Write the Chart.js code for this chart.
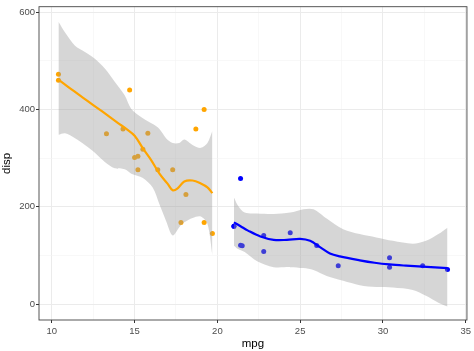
<!DOCTYPE html>
<html>
<head>
<meta charset="utf-8">
<script src="https://cdn.jsdelivr.net/npm/chart.js@4/dist/chart.umd.min.js"></script>
<style>
html,body{margin:0;padding:0;background:#fff;}
canvas{display:block;}
</style>
</head>
<body>
<canvas id="c" width="474" height="351"></canvas>
<script>
// ---- raw points (mtcars: mpg vs disp), split by mpg < 20 ----
const mpgLow  = [18.7, 18.1, 14.3, 19.2, 17.8, 16.4, 17.3, 15.2, 10.4, 10.4, 14.7, 15.5, 15.2, 13.3, 19.2, 15.8, 19.7, 15.0];
const dispLow = [360, 225, 360, 167.6, 167.6, 275.8, 275.8, 275.8, 472, 460, 440, 318, 304, 350, 400, 351, 145, 301];
const mpgHigh  = [21.0, 21.0, 22.8, 21.4, 24.4, 22.8, 32.4, 30.4, 33.9, 21.5, 27.3, 26.0, 30.4, 21.4];
const dispHigh = [160, 160, 108, 258, 146.7, 140.8, 78.7, 75.7, 71.1, 120.1, 79, 120.3, 95.1, 121];

// ---- loess fit lines ----
const fitLowX = [10.4, 11, 12, 13, 14, 14.5, 15, 15.5, 16, 16.5, 17, 17.3, 17.6, 18, 18.5, 19, 19.4, 19.7];
const fitLowY = [461, 446, 421, 397, 372, 360, 346, 320, 296, 268, 247, 234, 238, 252, 254, 248, 240, 228];
const fitHighX = [21.0, 21.4, 21.85, 22.6, 23.4, 24.2, 25.0, 25.6, 26.2, 26.8, 27.4, 28.6, 29.5, 30.4, 31.4, 32.4, 33.9];
const fitHighY = [168, 160, 151, 139, 132, 132, 134, 130, 117, 104, 98, 90, 85, 81.5, 79, 77, 74];

// ---- confidence ribbons ----
const bandLowX = [10.4, 10.8, 11.4, 12.0, 12.6, 13.2, 13.8, 14.4, 14.8, 15.5, 16.1, 16.5, 16.9, 17.3, 17.7, 18.0, 18.5, 19.0, 19.4, 19.7];
const bandLowUpper = [580, 558, 531, 518, 504, 484, 457, 429, 401, 382, 370, 360, 341, 331, 331, 338, 327, 321, 331, 356];
const bandLowLower = [348, 351, 341, 327, 311, 292, 279, 277, 268, 259, 239, 205, 171, 141, 158, 168, 177, 180, 165, 100];
const bandHighX = [21.0, 21.25, 21.65, 22.4, 23.4, 24.4, 25.2, 25.8, 26.6, 27.6, 28.6, 29.6, 30.6, 31.8, 32.6, 33.35, 33.9];
const bandHighUpper = [219, 202, 188, 186, 185, 188, 195, 195, 176, 154, 144, 137, 130, 124, 130, 144, 157];
const bandHighLower = [120, 113, 107, 88, 76, 76, 74, 70, 58, 48, 39, 35, 34, 29, 17, 3, -5];

// ---- axis ticks ----
const xMajorTicks = [10, 15, 20, 25, 30, 35];
const xMinorTicks = [12.5, 17.5, 22.5, 27.5, 32.5];
const yMajorTicks = [0, 200, 400, 600];
const yMinorTicks = [100, 300, 500];

const xy = (xs, ys) => xs.map((x, i) => ({x: x, y: ys[i]}));

const ORANGE = 'rgb(255,165,0)';
const BLUE = 'rgb(0,0,255)';
const RIBBON = 'rgba(153,153,153,0.4)';

function setTicks(major, minor) {
  return function (scale) {
    const all = major.map(v => ({value: v, major: true})).concat(minor.map(v => ({value: v, major: false})));
    all.sort((a, b) => a.value - b.value);
    scale.ticks = all;
  };
}

const gridOpts = {
  color: ctx => (ctx.tick && ctx.tick.major) ? '#EBEBEB' : '#F3F3F3',
  lineWidth: ctx => (ctx.tick && ctx.tick.major) ? 1 : 0.6,
  tickColor: ctx => (ctx.tick && ctx.tick.major) ? '#333333' : 'rgba(0,0,0,0)',
  tickLength: 3,
  tickWidth: 1,
  drawTicks: true
};

const panelBorder = {
  id: 'panelBorder',
  afterDatasetsDraw(chart) {
    const a = chart.chartArea;
    const c = chart.ctx;
    c.save();
    c.strokeStyle = '#444444';
    c.lineWidth = 0.9;
    c.strokeRect(a.left, a.top, a.right - a.left, a.bottom - a.top);
    c.restore();
  }
};

const ribbonStyle = {
  showLine: true,
  borderWidth: 0,
  borderColor: 'rgba(0,0,0,0)',
  backgroundColor: RIBBON,
  pointRadius: 0,
  tension: 0.3,
  order: 1
};

new Chart(document.getElementById('c'), {
  type: 'line',
  data: {
    datasets: [
      {data: xy(fitLowX, fitLowY), showLine: true, borderColor: ORANGE, borderWidth: 2.2, pointRadius: 0, fill: false, tension: 0.35, order: 0},
      {data: xy(fitHighX, fitHighY), showLine: true, borderColor: BLUE, borderWidth: 2.2, pointRadius: 0, fill: false, tension: 0.35, order: 0},
      Object.assign({data: xy(bandLowX, bandLowUpper), fill: '+1'}, ribbonStyle),
      Object.assign({data: xy(bandLowX, bandLowLower), fill: false}, ribbonStyle),
      Object.assign({data: xy(bandHighX, bandHighUpper), fill: '+1'}, ribbonStyle),
      Object.assign({data: xy(bandHighX, bandHighLower), fill: false}, ribbonStyle),
      {data: xy(mpgLow, dispLow), showLine: false, pointRadius: 2.5, pointBackgroundColor: ORANGE, pointBorderWidth: 0, pointBorderColor: ORANGE, order: 2},
      {data: xy(mpgHigh, dispHigh), showLine: false, pointRadius: 2.5, pointBackgroundColor: BLUE, pointBorderWidth: 0, pointBorderColor: BLUE, order: 2}
    ]
  },
  options: {
    responsive: false,
    animation: false,
    events: [],
    layout: {padding: {top: 4, right: 2, left: 0, bottom: 0}},
    plugins: {legend: {display: false}, tooltip: {enabled: false}},
    scales: {
      x: {
        type: 'linear',
        min: 9.225,
        max: 35.075,
        afterBuildTicks: setTicks(xMajorTicks, xMinorTicks),
        afterFit: s => { s.height = 31; },
        grid: gridOpts,
        border: {display: false},
        ticks: {
          autoSkip: false, maxRotation: 0, padding: 3,
          color: '#4D4D4D',
          font: {family: 'Liberation Sans, Arial, sans-serif', size: 9.5},
          callback: (v) => xMajorTicks.includes(v) ? String(v) : ''
        },
        title: {display: true, text: 'mpg', color: '#000', padding: {top: 1, bottom: 0},
          font: {family: 'Liberation Sans, Arial, sans-serif', size: 11.5}}
      },
      y: {
        type: 'linear',
        min: -32.6,
        max: 611,
        afterBuildTicks: setTicks(yMajorTicks, yMinorTicks),
        afterFit: s => { s.width = 39; },
        grid: gridOpts,
        border: {display: false},
        ticks: {
          autoSkip: false, padding: 1,
          color: '#4D4D4D',
          font: {family: 'Liberation Sans, Arial, sans-serif', size: 9.5},
          callback: (v) => yMajorTicks.includes(v) ? String(v) : ''
        },
        title: {display: true, text: 'disp', color: '#000', padding: {top: 0, bottom: 0},
          font: {family: 'Liberation Sans, Arial, sans-serif', size: 11.5}}
      }
    }
  },
  plugins: [panelBorder]
});
</script>
</body>
</html>
